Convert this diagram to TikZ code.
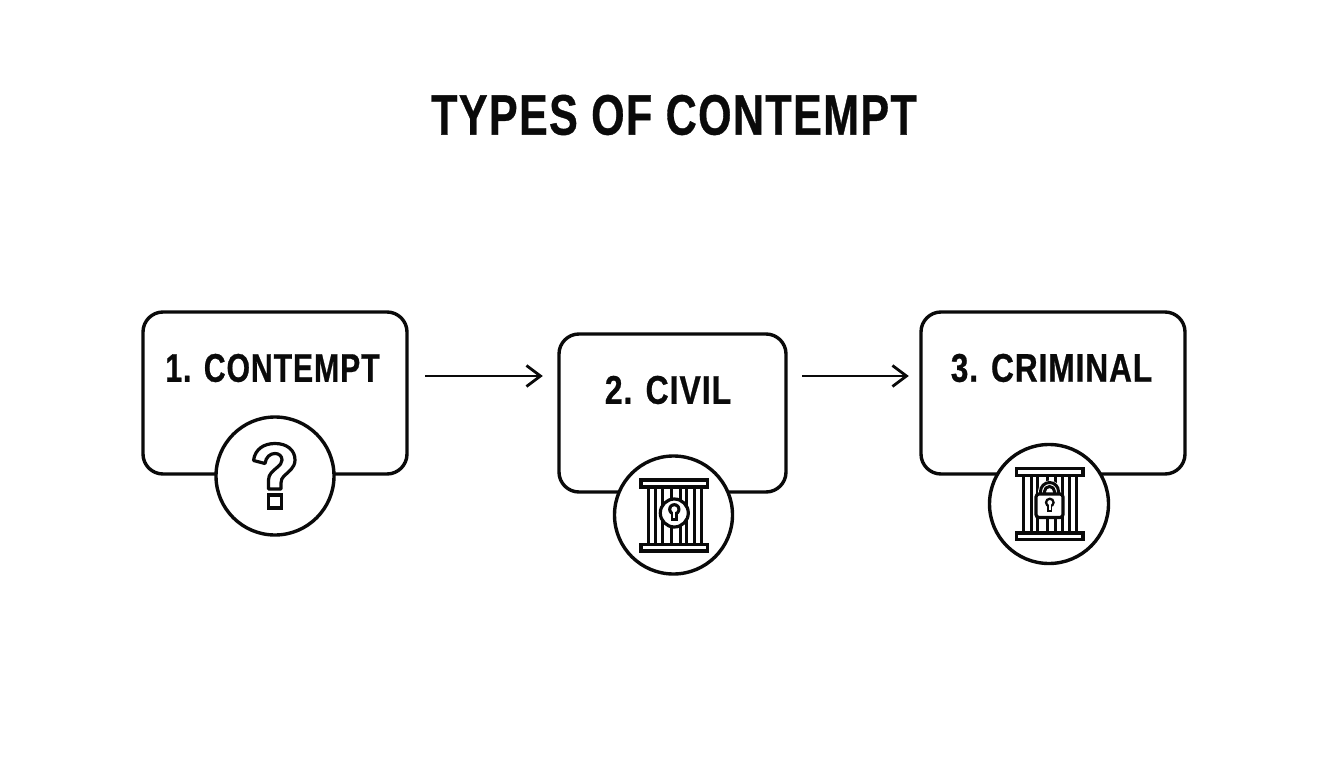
\documentclass[tikz,border=0pt]{standalone}
\usepackage{fontspec}
\setmainfont{Liberation Sans}
\usetikzlibrary{arrows.meta}
\definecolor{ink}{HTML}{0A0A0A}
\tikzset{
  card/.style={draw=ink,line width=3.4pt,rounded corners=20pt,fill=white,minimum height=#1,inner sep=0pt},
  badge/.style={circle,draw=ink,line width=3.4pt,fill=white,inner sep=0pt},
  titletext/.style={font=\fontsize{57}{60}\selectfont\bfseries\addfontfeature{LetterSpace=3.2,FakeBold=0.7},text=ink,xscale=.755},
  labeltext/.style={font=\fontsize{40}{42}\selectfont\bfseries\addfontfeature{LetterSpace=3,FakeBold=0.7},text=ink,xscale=#1},
  flow/.style={draw=ink,line width=2.8pt,-{Straight Barb[length=14pt,width=21pt,line width=2.8pt]}},
  icon/.style={draw=ink,line width=3.2pt,line join=miter},
  bar/.style={draw=ink,line width=3pt}
}
\newcommand{\jailframe}[2]{% x left, y top of top rail
  \begin{scope}[shift={(#1,#2)}]
    \foreach \bx in {7.3,14.7,21.3,30.7,39,45.7,53.3,60} {\draw[bar] (\bx,7) -- (\bx,64);}
    \draw[icon,fill=white] (0,0) rectangle (66.5,7);
    \draw[icon,fill=white] (0,64.5) rectangle (66.5,71);
  \end{scope}
}
\begin{document}
\begin{tikzpicture}[x=1pt,y=-1pt]
\useasboundingbox (0,0) rectangle (1344,768);
\fill[white] (0,0) rectangle (1344,768);

\node[titletext] (title) at (674,115) {TYPES OF CONTEMPT};

\node[card=162pt,minimum width=264pt] (box1) at (275,393) {};
\node[card=158pt,minimum width=227pt] (box2) at (672.5,413) {};
\node[card=162pt,minimum width=264pt] (box3) at (1053,393) {};

\node[labeltext=.755] (lab1) at (272.5,368) {1. CONTEMPT};
\node[labeltext=.80] (lab2) at (668,390) {2. CIVIL};
\node[labeltext=.79] (lab3) at (1051.5,368) {3. CRIMINAL};

\draw[flow] ([xshift=16.5pt,yshift=17pt]box1.east) -- ([xshift=-14.5pt,yshift=37pt]box2.west);
\draw[flow] ([xshift=14.5pt,yshift=37pt]box2.east) -- ([xshift=-10.5pt,yshift=17pt]box3.west);

\node[badge,minimum size=118pt] (c1) at (275,476) {};
\node[badge,minimum size=118pt] (c2) at (673.5,515) {};
\node[badge,minimum size=119pt] (c3) at (1049,504) {};

% question mark
\draw[icon,line join=round] (253.5,460.5) .. controls (255,449) and (264,443.5) .. (275,443.5)
  .. controls (287,443.5) and (295,450) .. (295,460)
  .. controls (295,468) and (288,472) .. (284,476) .. controls (282,478) and (281,480) .. (281,483)
  -- (281,489) -- (268.5,489) -- (268.5,480)
  .. controls (268.5,474) and (273,471) .. (277,467.5) .. controls (280,465) and (282,463) .. (282,460)
  .. controls (282,456) and (279,453.5) .. (275,453.5)
  .. controls (270,453.5) and (266,457) .. (265,463.5) -- cycle;
\draw[icon] (268.5,495) rectangle (281.5,508);

% civil jail
\jailframe{641}{480}
\draw[icon,fill=white] (674.3,513) circle (14pt);
\fill[ink] (674.3,509.3) circle (6.2pt);
\fill[ink] (671,511) -- (677.6,511) -- (677.6,520.5) -- (671,520.5) -- cycle;
\fill[white] (674.3,509.3) circle (3pt);
\fill[white] (673.3,510) rectangle (675.3,518);

% criminal jail
\jailframe{1016.5}{468.5}
\fill[white] (1038,494) -- (1038,491.5) arc (180:360:11.5 and 11) -- (1061,494) -- cycle;
\draw[bar] (1040.5,494) -- (1040.5,491.5) arc (180:360:9 and 9) -- (1058.5,494);
\draw[bar] (1044.5,494) -- (1044.5,491.5) arc (180:360:5 and 5) -- (1054.5,494);
\draw[icon,fill=white,rounded corners=3pt] (1036,494) rectangle (1063,517.5);
\fill[ink] (1049.8,502.5) circle (5pt);
\fill[ink] (1047.3,503) rectangle (1052.3,511.5);
\fill[white] (1049.8,502.5) circle (2.4pt);
\fill[white] (1049,503) rectangle (1050.6,509.5);
\end{tikzpicture}
\end{document}
